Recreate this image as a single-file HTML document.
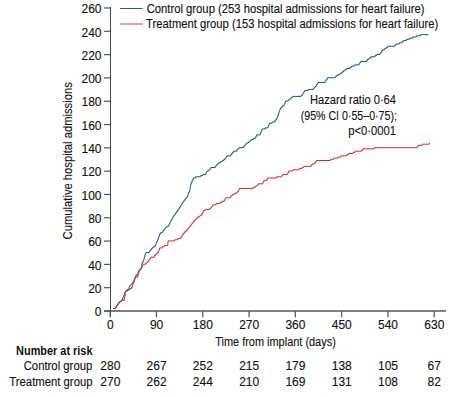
<!DOCTYPE html>
<html><head><meta charset="utf-8"><style>
html,body{margin:0;padding:0;background:#fff;width:461px;height:397px;overflow:hidden}
svg{display:block}
</style></head><body>
<svg width="461" height="397" viewBox="0 0 461 397">
<line x1="110.5" y1="7" x2="110.5" y2="317" stroke="#444" stroke-width="1"/>
<line x1="104" y1="311" x2="446" y2="311" stroke="#555" stroke-width="1.3"/>
<line x1="104" y1="311.00" x2="110.5" y2="311.00" stroke="#555" stroke-width="1.2"/>
<text x="101.5" y="316.20" text-anchor="end" font-family="Liberation Sans, sans-serif" font-size="12" fill="#111" stroke="#111" stroke-width="0.12">0</text>
<line x1="104" y1="287.69" x2="110.5" y2="287.69" stroke="#555" stroke-width="1.2"/>
<text x="101.5" y="292.89" text-anchor="end" font-family="Liberation Sans, sans-serif" font-size="12" fill="#111" stroke="#111" stroke-width="0.12">20</text>
<line x1="104" y1="264.38" x2="110.5" y2="264.38" stroke="#555" stroke-width="1.2"/>
<text x="101.5" y="269.58" text-anchor="end" font-family="Liberation Sans, sans-serif" font-size="12" fill="#111" stroke="#111" stroke-width="0.12">40</text>
<line x1="104" y1="241.08" x2="110.5" y2="241.08" stroke="#555" stroke-width="1.2"/>
<text x="101.5" y="246.28" text-anchor="end" font-family="Liberation Sans, sans-serif" font-size="12" fill="#111" stroke="#111" stroke-width="0.12">60</text>
<line x1="104" y1="217.77" x2="110.5" y2="217.77" stroke="#555" stroke-width="1.2"/>
<text x="101.5" y="222.97" text-anchor="end" font-family="Liberation Sans, sans-serif" font-size="12" fill="#111" stroke="#111" stroke-width="0.12">80</text>
<line x1="104" y1="194.46" x2="110.5" y2="194.46" stroke="#555" stroke-width="1.2"/>
<text x="101.5" y="199.66" text-anchor="end" font-family="Liberation Sans, sans-serif" font-size="12" fill="#111" stroke="#111" stroke-width="0.12">100</text>
<line x1="104" y1="171.15" x2="110.5" y2="171.15" stroke="#555" stroke-width="1.2"/>
<text x="101.5" y="176.35" text-anchor="end" font-family="Liberation Sans, sans-serif" font-size="12" fill="#111" stroke="#111" stroke-width="0.12">120</text>
<line x1="104" y1="147.85" x2="110.5" y2="147.85" stroke="#555" stroke-width="1.2"/>
<text x="101.5" y="153.05" text-anchor="end" font-family="Liberation Sans, sans-serif" font-size="12" fill="#111" stroke="#111" stroke-width="0.12">140</text>
<line x1="104" y1="124.54" x2="110.5" y2="124.54" stroke="#555" stroke-width="1.2"/>
<text x="101.5" y="129.74" text-anchor="end" font-family="Liberation Sans, sans-serif" font-size="12" fill="#111" stroke="#111" stroke-width="0.12">160</text>
<line x1="104" y1="101.23" x2="110.5" y2="101.23" stroke="#555" stroke-width="1.2"/>
<text x="101.5" y="106.43" text-anchor="end" font-family="Liberation Sans, sans-serif" font-size="12" fill="#111" stroke="#111" stroke-width="0.12">180</text>
<line x1="104" y1="77.92" x2="110.5" y2="77.92" stroke="#555" stroke-width="1.2"/>
<text x="101.5" y="83.12" text-anchor="end" font-family="Liberation Sans, sans-serif" font-size="12" fill="#111" stroke="#111" stroke-width="0.12">200</text>
<line x1="104" y1="54.62" x2="110.5" y2="54.62" stroke="#555" stroke-width="1.2"/>
<text x="101.5" y="59.82" text-anchor="end" font-family="Liberation Sans, sans-serif" font-size="12" fill="#111" stroke="#111" stroke-width="0.12">220</text>
<line x1="104" y1="31.31" x2="110.5" y2="31.31" stroke="#555" stroke-width="1.2"/>
<text x="101.5" y="36.51" text-anchor="end" font-family="Liberation Sans, sans-serif" font-size="12" fill="#111" stroke="#111" stroke-width="0.12">240</text>
<line x1="104" y1="8.00" x2="110.5" y2="8.00" stroke="#555" stroke-width="1.2"/>
<text x="101.5" y="13.20" text-anchor="end" font-family="Liberation Sans, sans-serif" font-size="12" fill="#111" stroke="#111" stroke-width="0.12">260</text>
<line x1="110.20" y1="311" x2="110.20" y2="317.2" stroke="#5a5a5a" stroke-width="1.3"/>
<text x="110.30" y="328.5" text-anchor="middle" font-family="Liberation Sans, sans-serif" font-size="12" fill="#111" stroke="#111" stroke-width="0.12">0</text>
<line x1="156.49" y1="311" x2="156.49" y2="317.2" stroke="#5a5a5a" stroke-width="1.3"/>
<text x="156.59" y="328.5" text-anchor="middle" font-family="Liberation Sans, sans-serif" font-size="12" fill="#111" stroke="#111" stroke-width="0.12">90</text>
<line x1="202.77" y1="311" x2="202.77" y2="317.2" stroke="#5a5a5a" stroke-width="1.3"/>
<text x="202.87" y="328.5" text-anchor="middle" font-family="Liberation Sans, sans-serif" font-size="12" fill="#111" stroke="#111" stroke-width="0.12">180</text>
<line x1="249.06" y1="311" x2="249.06" y2="317.2" stroke="#5a5a5a" stroke-width="1.3"/>
<text x="249.16" y="328.5" text-anchor="middle" font-family="Liberation Sans, sans-serif" font-size="12" fill="#111" stroke="#111" stroke-width="0.12">270</text>
<line x1="295.34" y1="311" x2="295.34" y2="317.2" stroke="#5a5a5a" stroke-width="1.3"/>
<text x="295.44" y="328.5" text-anchor="middle" font-family="Liberation Sans, sans-serif" font-size="12" fill="#111" stroke="#111" stroke-width="0.12">360</text>
<line x1="341.63" y1="311" x2="341.63" y2="317.2" stroke="#5a5a5a" stroke-width="1.3"/>
<text x="341.73" y="328.5" text-anchor="middle" font-family="Liberation Sans, sans-serif" font-size="12" fill="#111" stroke="#111" stroke-width="0.12">450</text>
<line x1="387.91" y1="311" x2="387.91" y2="317.2" stroke="#5a5a5a" stroke-width="1.3"/>
<text x="388.01" y="328.5" text-anchor="middle" font-family="Liberation Sans, sans-serif" font-size="12" fill="#111" stroke="#111" stroke-width="0.12">540</text>
<line x1="434.20" y1="311" x2="434.20" y2="317.2" stroke="#5a5a5a" stroke-width="1.3"/>
<text x="434.30" y="328.5" text-anchor="middle" font-family="Liberation Sans, sans-serif" font-size="12" fill="#111" stroke="#111" stroke-width="0.12">630</text>
<line x1="120" y1="8.5" x2="142.5" y2="8.5" stroke="#2a5a98" stroke-width="1"/>
<line x1="120" y1="24" x2="142.5" y2="24" stroke="#d94040" stroke-width="1"/>
<text x="146.70" y="13.20" font-family="Liberation Sans, sans-serif" font-size="12" fill="#111" stroke="#111" stroke-width="0.12" font-weight="normal" textLength="277.80" lengthAdjust="spacingAndGlyphs">Control group (253 hospital admissions for heart failure)</text>
<text x="146.10" y="27.80" font-family="Liberation Sans, sans-serif" font-size="12" fill="#111" stroke="#111" stroke-width="0.12" font-weight="normal" textLength="292.20" lengthAdjust="spacingAndGlyphs">Treatment group (153 hospital admissions for heart failure)</text>
<text x="310.00" y="104.00" font-family="Liberation Sans, sans-serif" font-size="12" fill="#111" stroke="#111" stroke-width="0.12" font-weight="normal" textLength="86.00" lengthAdjust="spacingAndGlyphs">Hazard ratio 0·64</text>
<text x="300.70" y="119.60" font-family="Liberation Sans, sans-serif" font-size="12" fill="#111" stroke="#111" stroke-width="0.12" font-weight="normal" textLength="96.20" lengthAdjust="spacingAndGlyphs">(95% CI 0·55–0·75);</text>
<text x="348.30" y="135.00" font-family="Liberation Sans, sans-serif" font-size="12" fill="#111" stroke="#111" stroke-width="0.12" font-weight="normal" textLength="47.79" lengthAdjust="spacingAndGlyphs">p&lt;0·0001</text>
<text x="215.20" y="345.60" font-family="Liberation Sans, sans-serif" font-size="12" fill="#111" stroke="#111" stroke-width="0.12" font-weight="normal" textLength="120.60" lengthAdjust="spacingAndGlyphs">Time from implant (days)</text>
<text x="16.10" y="354.80" font-family="Liberation Sans, sans-serif" font-size="12" fill="#111" stroke="#111" stroke-width="0" font-weight="bold" textLength="76.41" lengthAdjust="spacingAndGlyphs">Number at risk</text>
<text x="23.70" y="369.80" font-family="Liberation Sans, sans-serif" font-size="12" fill="#111" stroke="#111" stroke-width="0.12" font-weight="normal" textLength="68.60" lengthAdjust="spacingAndGlyphs">Control group</text>
<text x="9.30" y="385.60" font-family="Liberation Sans, sans-serif" font-size="12" fill="#111" stroke="#111" stroke-width="0.12" font-weight="normal" textLength="83.21" lengthAdjust="spacingAndGlyphs">Treatment group</text>
<text transform="translate(72.0,239.4) rotate(-90)" x="0" y="0" font-family="Liberation Sans, sans-serif" font-size="12" fill="#111" stroke="#111" stroke-width="0.12" font-weight="normal" textLength="157.20" lengthAdjust="spacingAndGlyphs">Cumulative hospital admissions</text>
<text x="110.30" y="369.8" text-anchor="middle" font-family="Liberation Sans, sans-serif" font-size="12" fill="#111" stroke="#111" stroke-width="0.12">280</text>
<text x="110.30" y="385.6" text-anchor="middle" font-family="Liberation Sans, sans-serif" font-size="12" fill="#111" stroke="#111" stroke-width="0.12">270</text>
<text x="156.59" y="369.8" text-anchor="middle" font-family="Liberation Sans, sans-serif" font-size="12" fill="#111" stroke="#111" stroke-width="0.12">267</text>
<text x="156.59" y="385.6" text-anchor="middle" font-family="Liberation Sans, sans-serif" font-size="12" fill="#111" stroke="#111" stroke-width="0.12">262</text>
<text x="202.87" y="369.8" text-anchor="middle" font-family="Liberation Sans, sans-serif" font-size="12" fill="#111" stroke="#111" stroke-width="0.12">252</text>
<text x="202.87" y="385.6" text-anchor="middle" font-family="Liberation Sans, sans-serif" font-size="12" fill="#111" stroke="#111" stroke-width="0.12">244</text>
<text x="249.16" y="369.8" text-anchor="middle" font-family="Liberation Sans, sans-serif" font-size="12" fill="#111" stroke="#111" stroke-width="0.12">215</text>
<text x="249.16" y="385.6" text-anchor="middle" font-family="Liberation Sans, sans-serif" font-size="12" fill="#111" stroke="#111" stroke-width="0.12">210</text>
<text x="295.44" y="369.8" text-anchor="middle" font-family="Liberation Sans, sans-serif" font-size="12" fill="#111" stroke="#111" stroke-width="0.12">179</text>
<text x="295.44" y="385.6" text-anchor="middle" font-family="Liberation Sans, sans-serif" font-size="12" fill="#111" stroke="#111" stroke-width="0.12">169</text>
<text x="341.73" y="369.8" text-anchor="middle" font-family="Liberation Sans, sans-serif" font-size="12" fill="#111" stroke="#111" stroke-width="0.12">138</text>
<text x="341.73" y="385.6" text-anchor="middle" font-family="Liberation Sans, sans-serif" font-size="12" fill="#111" stroke="#111" stroke-width="0.12">131</text>
<text x="388.01" y="369.8" text-anchor="middle" font-family="Liberation Sans, sans-serif" font-size="12" fill="#111" stroke="#111" stroke-width="0.12">105</text>
<text x="388.01" y="385.6" text-anchor="middle" font-family="Liberation Sans, sans-serif" font-size="12" fill="#111" stroke="#111" stroke-width="0.12">108</text>
<text x="434.30" y="369.8" text-anchor="middle" font-family="Liberation Sans, sans-serif" font-size="12" fill="#111" stroke="#111" stroke-width="0.12">67</text>
<text x="434.30" y="385.6" text-anchor="middle" font-family="Liberation Sans, sans-serif" font-size="12" fill="#111" stroke="#111" stroke-width="0.12">82</text>
<path d="M113.10,308.50H115.65V307.33H116.35V306.17H117.09V305.00H117.86V303.84H118.69V302.67H119.82V301.51H121.11V300.34H122.11V299.18H122.76V298.01H123.09V296.85H123.52V295.68H124.13V294.52H124.56V293.35H124.85V292.18H125.46V291.02H127.79V289.85H129.72V288.69H131.47V287.52H132.18V286.36H132.64V285.19H132.91V284.03H133.08V282.86H134.02V281.70H134.33V280.53H134.65V279.37H134.96V278.20H135.27V277.03H135.67V275.87H136.25V274.70H137.65V273.54H138.04V272.37H138.43V271.21H139.15V270.04H140.12V268.88H141.09V267.71H141.33V266.55H141.55V265.38H141.78V264.22H142.01V263.05H142.53V261.88H143.23V260.72H143.75V259.55H144.06V258.39H144.37V257.22H144.68V256.06H144.99V254.89H145.30V253.73H145.79V252.56H149.10V251.40H150.07V250.23H151.05V249.07H151.98V247.90H153.32V246.73H155.04V245.57H155.55V244.40H156.07V243.24H156.58V242.07H157.10V240.91H157.62V239.74H158.09V238.58H158.50V237.41H158.91V236.25H159.33V235.08H159.74V233.92H160.47V232.75H162.57V231.58H163.32V230.42H164.07V229.25H164.83V228.09H165.88V226.92H167.88V225.76H168.90V224.59H169.49V223.43H170.08V222.26H170.68V221.10H171.27V219.93H171.86V218.77H172.45V217.60H173.17V216.43H173.99V215.27H174.81V214.10H175.63V212.94H176.45V211.77H177.26V210.61H178.08V209.44H178.89V208.28H179.70V207.11H180.46V205.95H181.12V204.78H181.78V203.62H182.44V202.45H183.26V201.28H184.18V200.12H185.10V198.95H186.02V197.79H186.94V196.62H187.55V195.46H188.04V194.29H188.52V193.13H189.01V191.96H189.49V190.80H189.81V189.63H189.99V188.47H190.18V187.30H190.36V186.13H190.55V184.97H190.78V183.80H191.29V182.64H191.79V181.47H192.29V180.31H192.82V179.14H193.38V177.98H195.60V176.81H200.42V175.65H202.89V174.48H205.76V173.32H206.35V172.15H206.91V170.98H208.96V169.82H210.09V168.65H210.77V167.49H215.26V166.32H216.17V165.16H217.08V163.99H218.37V162.83H220.47V161.66H222.45V160.50H223.90V159.33H225.32V158.17H226.09V157.00H226.85V155.83H230.58V154.67H231.58V153.50H232.57V152.34H233.57V151.17H236.59V150.01H237.76V148.84H238.92V147.68H243.44V146.51H244.42V145.35H245.41V144.18H246.39V143.02H248.38V141.85H250.02V140.68H251.18V139.52H253.58V138.35H255.58V137.19H256.12V136.02H256.66V134.86H260.20V133.69H260.66V132.53H261.13V131.36H261.59V130.20H262.05V129.03H265.20V127.87H267.93V126.70H268.43V125.53H268.94V124.37H269.44V123.20H272.17V122.04H274.66V120.87H275.57V119.71H276.47V118.54H277.27V117.38H277.64V116.21H278.01V115.05H278.38V113.88H278.76V112.72H279.15V111.55H279.54V110.38H279.93V109.22H280.58V108.05H281.29V106.89H282.46V105.72H284.12V104.56H284.62V103.39H285.13V102.23H285.63V101.06H288.33V99.90H289.75V98.73H291.18V97.57H292.60V96.40H301.22V95.23H302.42V94.07H303.11V92.90H303.80V91.74H304.50V90.57H308.34V89.41H313.46V88.24H314.58V87.08H315.70V85.91H316.52V84.75H317.28V83.58H318.03V82.42H325.25V81.25H325.91V80.08H326.67V78.92H327.55V77.75H335.37V76.59H336.38V75.42H338.18V74.26H340.69V73.09H342.08V71.93H343.47V70.76H344.92V69.60H346.36V68.43H349.99V67.27H351.81V66.10H354.39V64.93H359.02V63.77H359.78V62.60H360.55V61.44H366.76V60.27H367.61V59.11H369.02V57.94H370.94V56.78H374.97V55.61H376.79V54.45H380.17V53.28H380.86V52.12H381.55V50.95H382.69V49.78H384.61V48.62H386.13V47.45H387.66V46.29H394.68V45.12H395.95V43.96H399.47V42.79H402.23V41.63H403.61V40.46H406.41V39.30H409.38V38.13H412.73V36.97H416.44V35.80H420.33V34.63H428.30" fill="none" stroke="#1b4f90" stroke-width="1.0" stroke-linejoin="miter"/>
<path d="M113.10,308.50H115.65V307.33H116.35V306.17H117.09V305.00H117.86V303.84H118.69V302.67H119.82V301.51H121.19V300.34H124.41V299.18H124.52V298.01H124.62V296.85H124.84V295.68H125.35V294.52H125.40V293.35H125.40V292.18H125.58V291.02H126.75V289.85H128.23V288.69H128.88V287.52H129.25V286.36H130.16V285.19H131.17V284.03H132.34V282.86H133.10V281.70H133.59V280.53H134.08V279.37H134.58V278.20H135.86V277.03H137.81V275.87H138.10V274.70H138.39V273.54H138.68V272.37H138.97V271.21H139.59V270.04H140.47V268.88H141.34V267.71H142.15V266.55H142.53V265.38H142.90V264.22H145.76V263.05H147.16V261.88H148.35V260.72H149.13V259.55H149.91V258.39H150.68V257.22H154.17V256.06H154.91V254.89H156.07V253.73H157.24V252.56H158.40V251.40H159.02V250.23H159.36V249.07H159.70V247.90H162.29V246.73H164.23V245.57H167.70V244.40H167.83V243.24H167.97V242.07H168.10V240.91H174.79V239.74H177.61V238.58H180.52V237.41H181.46V236.25H182.19V235.08H182.93V233.92H183.89V232.75H184.87V231.58H186.20V230.42H187.40V229.25H188.24V228.09H189.09V226.92H189.93V225.76H190.79V224.59H191.74V223.43H192.69V222.26H193.64V221.10H194.77V219.93H195.96V218.77H197.15V217.60H198.35V216.43H200.11V215.27H201.65V214.10H202.23V212.94H202.81V211.77H203.40V210.61H205.03V209.44H209.72V208.28H211.25V207.11H212.05V205.95H212.76V204.78H216.00V203.62H220.12V202.45H221.91V201.28H224.36V200.12H225.07V198.95H225.78V197.79H230.24V196.62H231.34V195.46H232.44V194.29H234.67V193.13H236.85V191.96H238.37V190.80H238.85V189.63H239.33V188.47H253.10V187.30H255.36V186.13H257.15V184.97H258.21V183.80H262.98V182.64H263.47V181.47H263.95V180.31H267.08V179.14H267.60V177.98H276.64V176.81H281.80V175.65H282.68V174.48H287.64V173.32H288.18V172.15H288.72V170.98H292.93V169.82H299.06V168.65H302.14V167.49H303.84V166.32H311.30V165.16H312.02V163.99H314.38V162.83H315.51V161.66H316.42V160.50H330.53V159.33H333.82V158.17H337.87V157.00H340.98V155.83H346.86V154.67H348.48V153.50H353.00V152.34H355.20V151.17H361.79V150.01H362.96V148.84H374.43V147.68H417.22V146.51H418.09V145.35H422.12V144.18H429.32V143.02H429.90" fill="none" stroke="#d42a2e" stroke-width="1.0" stroke-linejoin="miter"/>
</svg>
</body></html>
